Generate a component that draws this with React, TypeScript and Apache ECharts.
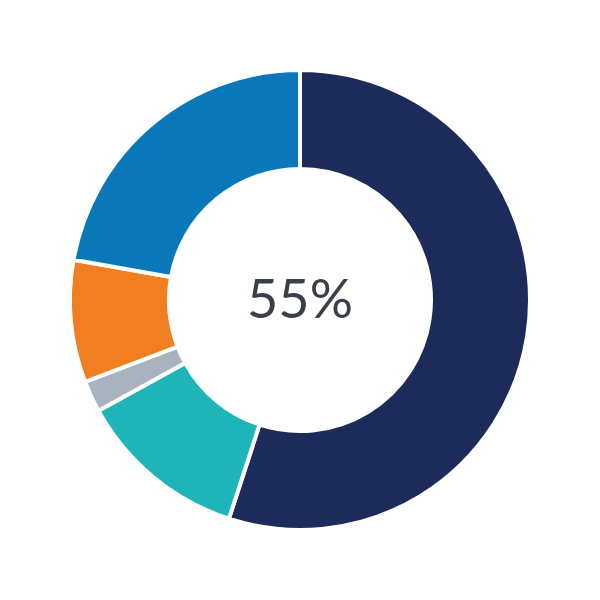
import React, { useEffect, useRef } from "react";
import * as echarts from "echarts";

const categories = ["A", "B", "C", "D", "E"];
const values = [55, 12, 2.2, 8.6, 22.2];
const colors = ["#1c2b59", "#1fb5b8", "#a9b2bf", "#f27e22", "#0a78b8"];
const centerLabel = "55%";

export default function App() {
  const ref = useRef<HTMLDivElement>(null);
  useEffect(() => {
    document.body.style.margin = "0";
    const chart = echarts.init(ref.current!, undefined, { renderer: "svg" });
    chart.setOption({
      animation: false,
      series: [
        {
          type: "pie",
          center: ["50%", "50%"],
          radius: [131, 230],
          startAngle: 90,
          clockwise: true,
          label: { show: false },
          labelLine: { show: false },
          emphasis: { disabled: true },
          itemStyle: { borderColor: "#ffffff", borderWidth: 4 },
          data: categories.map((c, i) => ({
            name: c,
            value: values[i],
            itemStyle: { color: colors[i] },
          })),
        },
      ],
      graphic: [
        {
          type: "text",
          x: 300,
          y: 297,
          style: {
            text: centerLabel,
            font: "54px Lato",
            fill: "#3a4049",
            align: "center",
            verticalAlign: "middle",
          },
        },
      ],
    });
    return () => chart.dispose();
  }, []);
  return <div ref={ref} style={{ width: 600, height: 600 }} />;
}
